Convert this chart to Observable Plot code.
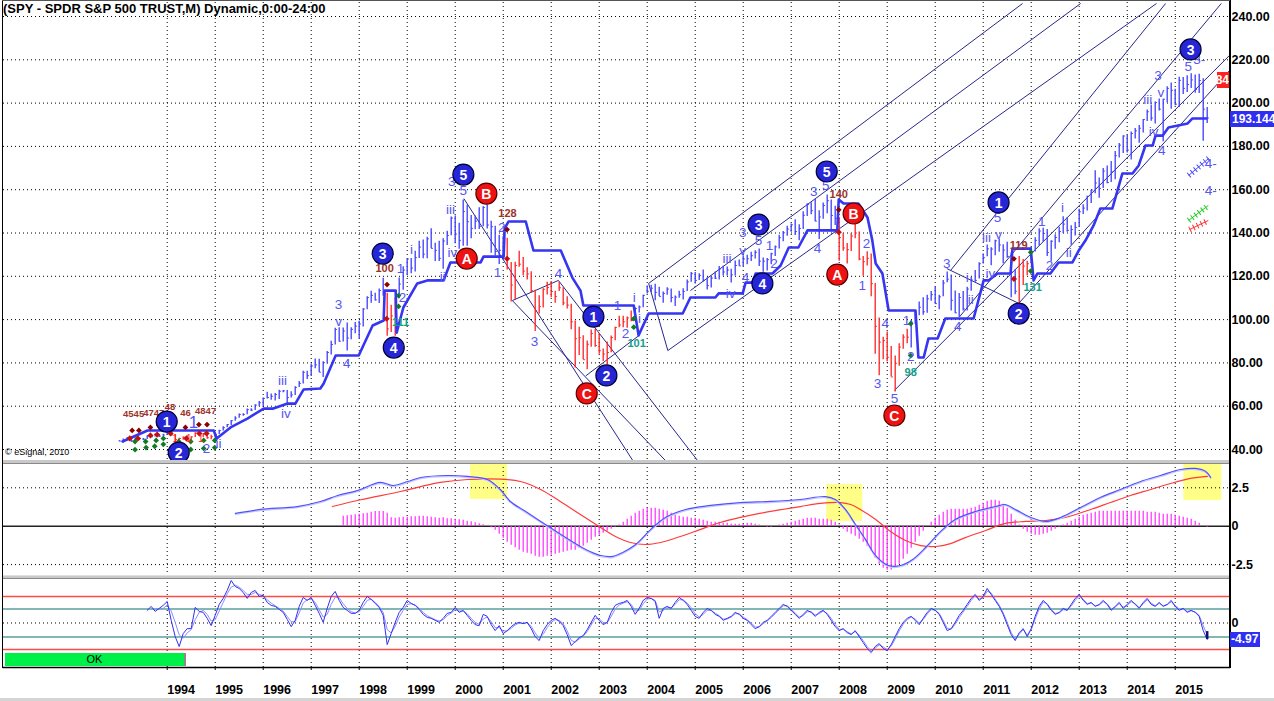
<!DOCTYPE html>
<html>
<head>
<meta charset="utf-8">
<script src="https://cdn.jsdelivr.net/npm/d3@7"></script>
<script src="https://cdn.jsdelivr.net/npm/@observablehq/plot@0.6"></script>
<style>
html,body{margin:0;padding:0;background:#fff;}
#chart{position:relative;width:1274px;height:701px;overflow:hidden;background:#fff;font-family:"Liberation Sans",Arial,sans-serif;}
#chart svg{position:absolute;left:0;overflow:visible}
.deco{position:absolute}
.box{position:absolute;color:#fff;font-weight:bold;font-size:12px;line-height:16px;white-space:nowrap;overflow:hidden}
</style>
</head>
<body>
<div id="chart"></div>
<script>
// ---------------- DATA ----------------
const title = "(SPY - SPDR S&P 500 TRUST,M) Dynamic,0:00-24:00";
const yearTicks = [1994,1995,1996,1997,1998,1999,2000,2001,2002,2003,2004,2005,2006,2007,2008,2009,2010,2011,2012,2013,2014,2015];
const priceTicks = [40,60,80,100,120,140,160,180,200,220,240];
const macdTicks = [-2.5,0,2.5];
const oscTicks = [0];
const oscBands = [-8,8];
const oscInner = [-4.2,4.2];

// monthly bars, first bar = Jan 1993
const barStart = 1993;
const spyHigh = [
44.0,44.9,45.6,45.2,45.3,45.3,45.1,46.4,46.4,47.1,46.9,47.1,
48.3,48.3,46.8,45.2,45.8,46.0,45.9,47.7,47.6,47.4,47.3,46.6,
47.2,48.9,50.5,51.5,53.4,55.1,56.4,56.5,58.7,58.8,60.7,62.2,
63.8,66.4,65.6,65.9,67.4,67.3,67.3,66.7,69.0,71.4,76.2,76.1,
79.4,81.8,81.7,80.5,85.3,90.0,96.0,96.2,96.1,98.4,96.2,98.7,
99.2,105.0,110.6,113.1,112.2,114.1,119.1,112.2,106.6,110.0,119.2,124.4,
128.0,128.2,131.6,136.2,136.8,138.0,142.0,135.3,136.2,137.3,140.8,147.4,
147.8,144.5,155.3,152.8,148.1,147.8,151.7,152.1,153.0,145.4,143.1,139.0,
138.4,137.6,126.4,126.5,131.6,128.7,123.9,122.1,113.5,111.0,114.3,117.3,
117.6,113.1,117.3,114.7,110.6,107.1,99.4,96.5,92.5,90.1,95.2,95.4,
93.5,86.4,89.6,92.4,96.5,101.5,101.5,101.2,104.0,105.4,106.3,111.2,
115.5,115.9,116.3,115.0,112.8,114.7,114.1,110.9,113.1,114.3,118.3,121.7,
121.8,121.2,122.9,119.2,119.9,122.0,124.5,124.6,124.3,123.3,127.1,127.5,
129.5,129.7,131.1,131.8,132.6,128.4,128.2,130.6,134.0,139.0,140.7,143.1,
144.1,146.1,143.8,149.8,153.5,154.0,155.6,150.3,153.8,157.6,155.2,152.4,
147.1,139.6,135.2,139.7,144.0,140.5,129.2,131.3,130.3,116.7,100.7,91.9,
94.3,87.6,83.2,88.8,93.0,95.6,99.6,103.9,108.1,110.1,111.3,113.0,
115.1,111.2,118.1,122.0,120.6,113.2,112.0,113.0,114.9,119.6,122.7,126.3,
130.3,134.5,133.2,136.6,137.1,134.6,135.7,130.8,123.0,129.2,127.8,127.0,
133.3,137.8,142.0,142.2,141.6,136.4,139.2,142.7,147.5,147.1,143.4,144.8,
151.0,153.0,157.0,159.7,168.7,165.4,169.8,170.9,173.0,177.6,181.3,184.9,
185.1,186.7,188.3,189.7,192.4,196.8,199.1,200.5,201.9,201.8,207.5,209.3,
206.4,211.9,211.8,212.6,213.5,213.0,213.3,211.3,198.0];
const spyLow = [
43.6,43.0,44.0,43.3,43.5,44.1,44.1,44.6,45.5,45.8,45.5,46.1,
46.5,46.4,43.6,43.5,44.3,44.2,44.4,45.6,46.1,45.6,44.7,44.5,
45.7,46.9,48.5,50.0,51.1,53.0,54.4,55.4,56.0,57.6,58.0,59.8,
59.7,63.3,62.7,62.4,63.1,66.2,60.5,63.8,64.9,68.6,70.3,72.3,
73.7,77.3,75.6,73.3,79.5,83.6,88.3,89.7,89.7,85.5,90.7,93.5,
91.2,96.6,104.6,107.6,108.6,107.4,110.8,92.3,94.0,92.3,109.6,113.6,
120.5,121.2,122.0,128.2,128.1,128.1,132.7,126.8,126.8,123.3,134.2,138.7,
135.0,132.5,133.9,133.9,137.4,141.5,141.6,142.9,141.9,130.6,129.4,125.5,
127.4,122.9,108.1,109.1,124.2,120.3,118.3,112.4,94.5,102.6,105.4,111.4,
110.1,107.5,113.0,106.4,104.9,95.3,77.6,83.4,81.5,76.8,87.2,87.2,
84.0,80.7,78.9,84.7,90.2,96.2,96.2,96.0,99.0,99.4,103.1,105.5,
111.8,112.4,108.7,110.7,107.6,111.3,107.8,106.0,109.9,109.0,113.0,117.3,
116.4,118.1,117.4,113.7,114.6,118.5,118.3,120.1,120.1,116.9,120.1,124.6,
124.5,125.3,126.8,128.0,124.5,121.9,122.4,125.3,129.1,132.6,136.0,138.5,
140.3,138.9,136.4,141.6,147.6,148.4,145.2,137.0,146.3,148.9,140.6,143.5,
127.0,131.6,125.7,131.5,137.3,127.2,120.0,124.8,110.6,84.0,74.1,81.5,
80.5,73.5,66.6,78.4,86.3,88.8,86.9,97.9,101.8,102.0,102.9,108.5,
107.1,104.5,110.5,117.0,104.0,102.8,101.1,104.0,104.0,113.1,117.3,118.7,
125.7,129.0,124.9,129.5,131.1,125.8,128.3,110.1,111.5,107.5,115.8,120.2,
125.9,131.2,134.0,135.7,129.2,126.7,132.5,135.5,139.6,140.3,134.3,138.6,
142.6,148.5,150.2,153.6,158.1,156.0,160.5,162.7,163.3,164.6,174.6,176.7,
177.0,173.7,183.4,181.4,186.2,191.5,191.6,190.4,196.4,182.1,200.1,197.2,
198.8,198.0,204.0,204.9,206.8,204.6,204.4,182.4,190.6];
const spyClose = [
43.9,44.3,45.2,44.0,45.0,45.1,44.8,46.4,45.9,46.8,46.2,46.7,
48.2,46.7,44.6,45.1,45.7,44.4,45.8,47.6,46.3,47.2,45.4,45.9,
47.0,48.7,50.1,51.5,53.3,54.5,56.2,56.2,58.4,58.2,60.5,61.6,
63.6,64.0,64.6,65.4,66.9,67.1,64.0,65.2,68.7,70.5,75.7,74.1,
78.6,79.1,75.7,80.1,84.8,88.5,95.4,90.0,94.7,91.5,95.5,97.0,
98.0,104.9,110.2,111.2,109.1,113.4,112.1,95.7,101.7,109.9,116.4,122.9,
128.0,123.8,128.6,133.5,130.2,137.3,132.9,132.0,128.3,136.3,138.9,146.9,
139.5,136.6,149.9,145.2,142.1,145.5,143.1,151.8,143.7,142.9,131.5,132.0,
136.6,124.0,116.0,125.0,125.6,122.4,121.1,113.4,104.1,106.0,114.0,114.8,
113.0,110.7,114.7,107.7,106.7,99.0,91.2,91.6,81.5,88.6,93.6,88.0,
85.6,84.1,84.8,91.7,96.4,97.5,99.0,100.8,99.6,105.1,105.8,111.2,
113.1,114.5,112.6,110.7,112.1,114.1,110.2,110.4,111.5,113.0,117.4,121.2,
118.1,120.4,118.1,115.7,119.2,119.1,123.4,122.0,122.9,120.7,125.0,124.8,
128.0,128.1,129.5,131.1,127.0,127.0,127.7,130.4,133.6,137.8,140.1,141.8,
143.8,140.7,142.1,148.2,153.1,150.3,145.5,147.4,152.7,154.9,148.1,146.8,
137.9,133.1,132.3,138.6,140.0,128.0,126.7,128.3,116.6,96.9,89.6,90.3,
82.6,73.5,79.8,87.3,91.9,91.9,98.8,102.1,105.7,103.6,109.6,111.5,
107.4,110.5,116.9,118.7,108.9,103.1,110.2,104.9,114.1,118.3,118.1,125.8,
128.6,132.7,132.6,136.4,134.5,132.1,129.2,121.9,113.1,125.3,124.7,125.8,
131.2,136.6,140.9,139.8,131.0,136.2,137.9,140.7,144.1,141.2,141.6,142.6,
149.8,151.5,156.9,159.8,163.1,160.6,168.6,163.3,168.2,175.7,180.6,184.8,
178.3,186.0,187.2,188.4,192.4,196.0,193.1,200.3,197.2,201.8,206.8,205.9,
199.5,210.5,206.8,208.6,210.7,206.3,210.4,197.2,193.144];
// down-trend (red bar) phases, [first month, last month] as decimal years
const downPhases = [[1994.08,1994.92],[1998.58,1998.75],[2001.08,2003.67],[2008.0,2009.42],[2011.67,2011.92]];

// trailing stop line (decimal year, price)
const stopLine = [[1993.07,43.7],[1993.59,48.8],[1994.97,48.8],[1995.03,45.1],[1995.32,50.2],[1995.67,54.3],[1996.01,58.9],[1996.21,58.9],[1996.51,61.2],[1996.67,61.2],[1996.84,67.7],[1997.19,68.2],[1997.26,70.5],[1997.51,83.4],[1997.99,83.4],[1998.28,97.3],[1998.51,99.6],[1998.53,113.4],[1998.76,113.4],[1998.78,94.0],[1998.92,105.6],[1999.21,116.7],[1999.42,118.1],[1999.76,118.1],[1999.90,126.4],[2000.53,126.4],[2000.59,129.1],[2001.01,129.1],[2001.03,142.1],[2001.11,145.3],[2001.47,145.3],[2001.63,131.9],[2002.20,131.9],[2002.44,119.4],[2002.61,113.4],[2002.67,106.5],[2003.72,106.5],[2003.82,92.7],[2004.03,102.8],[2004.74,102.8],[2004.90,110.2],[2005.42,110.2],[2005.49,112.1],[2005.99,112.1],[2006.05,117.1],[2006.19,117.1],[2006.26,121.3],[2006.61,121.3],[2006.78,125.0],[2006.95,133.3],[2007.15,133.3],[2007.34,141.2],[2007.96,141.2],[2007.99,155.5],[2008.09,153.6],[2008.40,153.6],[2008.59,147.2],[2008.69,136.5],[2008.76,125.9],[2008.90,121.3],[2009.03,104.2],[2009.59,104.2],[2009.65,82.5],[2009.76,82.5],[2009.86,91.3],[2010.05,91.3],[2010.21,100.5],[2010.80,100.5],[2011.01,118.1],[2011.11,118.1],[2011.30,121.3],[2011.57,121.3],[2011.61,132.8],[2011.99,132.8],[2012.05,118.1],[2012.13,121.3],[2012.40,121.3],[2012.57,126.4],[2012.86,126.4],[2012.99,131.9],[2013.13,136.5],[2013.30,143.5],[2013.44,151.3],[2013.69,151.3],[2013.90,167.5],[2014.11,167.5],[2014.24,171.2],[2014.38,180.4],[2014.53,180.4],[2014.59,185.0],[2014.74,185.0],[2014.86,188.7],[2015.26,190.6],[2015.36,192.9],[2015.65,192.9]];

// channel / trend lines [year1, price1, year2, price2]
const trendLines = [
 [2000.18,155.9,2003.70,34.9],
 [2001.19,108.8,2002.15,118.1],
 [2001.19,108.8,2004.38,34.9],
 [2002.15,118.1,2005.05,34.9],
 [2002.72,74.0,2003.82,92.5],
 [2004.03,116.7,2011.82,246.0],
 [2004.03,116.7,2004.43,85.7],
 [2004.43,85.7,2014.61,246.0],
 [2004.90,113.4,2013.03,246.0],
 [2009.15,67.3,2016.13,222.0],
 [2010.24,123.6,2011.74,107.5],
 [2010.32,122.7,2014.80,246.0],
 [2010.50,101.1,2015.96,246.0],
 [2011.74,107.5,2016.13,215.0]];

// pivot markers
const pivotHighDots = [[1993.27,48.8],[1993.41,48.8],[1993.65,50.2],[1993.83,51.1],[1994.09,52.0],[1994.38,50.2],[1994.66,51.5],[1994.83,51.5],[1998.58,116.2],[2001.08,141.6],[2007.99,150.7],[2011.64,128.1]];
const pivotMidDots = [[1993.22,45.1],[1993.39,45.1],[1993.65,46.5],[1993.79,46.9],[1994.07,47.4],[1994.40,45.1],[1994.67,47.4],[1994.82,47.4],[1998.57,100.4],[2001.08,128.1],[2007.99,140.4],[2011.64,118.8]];
const pivotLowDots = [[1993.33,43.7],[1993.55,43.7],[1993.77,44.2],[1993.92,45.1],[1994.24,43.7],[1994.49,43.7],[1994.76,44.2],[1994.99,44.2],[1993.33,39.9],[1993.56,40.9],[1993.74,41.5],[1993.92,42.4],[1994.24,40.0],[1994.49,40.0],[1994.76,40.5],[1994.99,40.9],[1998.82,111.1],[1998.82,106.1],[2003.72,100.4],[2003.72,96.5],[2009.49,98.1],[2009.49,83.4],[2011.99,131.1],[2011.99,122.4]];

// wave counts
const blueCircles = [[1993.99,52.9,"1"],[1994.24,38.6,"2"],[1998.49,130.5,"3"],[1998.72,87.1,"4"],[2000.17,167.0,"5"],[2002.88,101.4,"1"],[2003.15,74.2,"2"],[2006.32,143.9,"3"],[2006.40,116.7,"4"],[2007.74,168.4,"5"],[2011.32,154.1,"1"],[2011.74,102.8,"2"],[2015.32,224.8,"3"]];
const redCircles = [[2000.65,158.2,"B"],[2000.24,128.2,"A"],[2002.74,65.9,"C"],[2008.30,149.0,"B"],[2007.96,120.8,"A"],[2009.15,55.7,"C"]];
const waveLabels = [[1994.82,40.6,"2"],[1995.07,42.8,"ii"],[1996.40,71.9,"iii"],[1996.47,56.6,"iv"],[1997.57,106.9,"3"],[1997.57,99.2,"v"],[1997.74,79.7,"4"],[1998.86,123.6,"1"],[1998.90,110.2,"2"],[1999.09,132.4,"i"],[1999.74,119.9,"ii"],[1999.90,150.9,"iii"],[1999.94,131.0,"iv"],[1999.93,163.6,"3"],[2000.17,159.6,"5"],[2000.97,142.5,"2"],[2000.88,121.8,"1"],[2002.15,121.3,"4"],[2001.65,89.9,"3"],[2003.38,106.5,"1"],[2003.73,110.2,"i"],[2003.84,100.5,"i"],[2003.55,93.6,"2"],[2005.66,128.2,"iii"],[2005.74,112.1,"iv"],[2005.99,140.2,"3"],[2005.99,132.0,"v"],[2006.32,136.5,"5"],[2006.55,134.2,"1"],[2006.05,119.4,"4"],[2006.64,125.9,"2"],[2007.55,132.8,"4"],[2007.47,159.2,"3"],[2007.72,161.9,"5"],[2008.57,135.2,"2"],[2008.48,115.8,"1"],[2008.80,70.5,"3"],[2008.96,98.2,"4"],[2009.15,63.6,"5"],[2009.40,99.6,"1"],[2009.49,83.0,"2"],[2010.24,125.9,"3"],[2010.47,96.8,"4"],[2010.67,119.4,"i"],[2010.74,109.3,"ii"],[2011.07,137.9,"iii"],[2011.15,121.3,"iv"],[2011.32,139.4,"v"],[2011.30,147.0,"5"],[2012.22,145.3,"1"],[2012.38,125.0,"2"],[2012.65,151.8,"i"],[2012.78,131.0,"ii"],[2014.43,201.8,"iii"],[2014.70,205.0,"v"],[2014.64,212.6,"3"],[2014.55,186.9,"iv"],[2014.72,178.1,"4"],[2015.27,216.6,"5"],[2015.50,220.0,"3-"],[2015.74,172.1,"4-"],[2015.74,159.6,"4-"]];
const bigWaveLabels = [[1994.55,52.4,"1"]];
const smallRedLabels = [[1994.17,45.0,"1"],[1994.45,45.0,"1"],[1994.70,45.0,"1"]];
const highValueLabels = [[1998.53,123.6,"100"],[2001.09,149.0,"128"],[2007.99,157.8,"140"],[2011.74,134.2,"119"]];
const earlyValueLabels = [[1993.30,56.2,"4545"],[1993.72,57.0,"4747"],[1994.06,59.6,"48"],[1994.38,57.0,"46"],[1994.80,57.8,"4847"]];
const lowValueLabels = [[1998.86,98.7,"111"],[2003.78,89.0,"101"],[2009.49,75.6,"98"],[2012.03,114.8,"131"]];
// projection hatches [year1, price1, year2, price2]
const projBlue = [[2015.28,166.6,2015.70,174.5]];
const projGreen = [[2015.28,145.8,2015.69,152.7]];
const projRed = [[2015.30,141.6,2015.69,145.8]];

// MACD panel
const macdLine = [[1995.42,0.83],[1995.94,1.09],[1996.71,1.28],[1997.19,1.61],[1997.55,2.00],[1997.96,2.32],[1998.44,2.85],[1998.71,2.65],[1999.01,2.91],[1999.28,3.17],[1999.84,3.30],[2000.26,3.24],[2000.67,3.04],[2000.94,2.39],[2001.15,1.61],[2001.47,0.96],[2001.88,0.11],[2002.30,-0.74],[2002.72,-1.52],[2003.03,-1.91],[2003.28,-1.97],[2003.49,-1.71],[2003.76,-1.19],[2004.07,-0.22],[2004.38,0.57],[2004.80,1.09],[2005.32,1.35],[2005.94,1.54],[2006.57,1.61],[2007.19,1.74],[2007.71,1.93],[2007.92,1.74],[2008.13,1.09],[2008.34,0.11],[2008.55,-0.87],[2008.76,-1.91],[2009.03,-2.56],[2009.28,-2.56],[2009.53,-2.17],[2009.80,-1.39],[2010.11,-0.35],[2010.42,0.44],[2010.84,0.96],[2011.26,1.28],[2011.46,1.41],[2011.67,1.09],[2011.99,0.57],[2012.30,0.31],[2012.61,0.57],[2013.03,1.22],[2013.44,1.87],[2013.86,2.39],[2014.28,2.91],[2014.69,3.30],[2015.11,3.69],[2015.42,3.76],[2015.63,3.57],[2015.74,3.18]];
const signalLine = [[1997.44,1.28],[1998.03,1.72],[1998.86,2.26],[1999.28,2.58],[1999.69,2.85],[2000.26,3.04],[2000.94,3.07],[2001.36,2.91],[2001.78,2.39],[2002.19,1.61],[2002.61,0.76],[2003.03,-0.08],[2003.34,-0.67],[2003.65,-1.06],[2003.97,-1.19],[2004.28,-1.06],[2004.69,-0.67],[2005.10,-0.22],[2005.52,0.24],[2005.94,0.57],[2006.57,0.96],[2007.19,1.28],[2007.61,1.48],[2008.03,1.54],[2008.24,1.41],[2008.44,1.09],[2008.76,0.44],[2009.07,-0.35],[2009.38,-0.93],[2009.70,-1.26],[2010.01,-1.32],[2010.32,-1.13],[2010.63,-0.74],[2011.05,-0.28],[2011.46,0.18],[2011.88,0.31],[2012.30,0.37],[2012.71,0.57],[2013.24,1.09],[2013.65,1.54],[2014.07,2.00],[2014.49,2.39],[2014.90,2.78],[2015.32,3.11],[2015.67,3.24]];
const histStart = 1997 + 8/12;
const macdHist = [
0.65,0.68,0.72,0.75,
0.78,0.81,0.85,0.91,0.96,0.96,0.96,0.85,0.55,0.52,0.55,0.59,
0.59,0.62,0.62,0.65,0.65,0.62,0.59,0.55,0.52,0.55,0.49,0.49,
0.46,0.42,0.39,0.33,0.29,0.23,0.16,0.10,0.03,-0.10,-0.26,-0.52,
-0.78,-1.04,-1.24,-1.41,-1.56,-1.69,-1.76,-1.82,-1.95,-2.02,-2.02,-1.95,
-1.89,-1.82,-1.76,-1.69,-1.63,-1.56,-1.56,-1.43,-1.30,-1.11,-0.91,-0.72,
-0.59,-0.46,-0.33,-0.20,-0.07,0.07,0.26,0.46,0.65,0.85,0.98,1.11,
1.17,1.17,1.17,1.11,1.04,0.98,0.85,0.72,0.65,0.59,0.59,0.52,
0.52,0.46,0.39,0.33,0.26,0.26,0.26,0.20,0.20,0.13,0.13,0.13,
0.13,0.20,0.20,0.13,0.07,0,-0.07,-0.07,0,0.07,0.13,0.20,
0.26,0.33,0.39,0.46,0.52,0.52,0.52,0.46,0.46,0.46,0.39,0.26,
0.07,-0.20,-0.39,-0.52,-0.65,-0.85,-1.04,-1.30,-1.63,-2.08,-2.47,-2.73,
-2.86,-2.86,-2.73,-2.47,-2.15,-1.82,-1.43,-1.04,-0.65,-0.33,0,0.26,
0.52,0.72,0.91,1.04,1.11,1.11,1.11,1.11,1.11,1.17,1.24,1.37,
1.50,1.63,1.69,1.69,1.63,1.43,1.17,0.78,0.39,0.07,-0.20,-0.39,
-0.52,-0.59,-0.59,-0.52,-0.46,-0.33,-0.20,-0.07,0.07,0.20,0.33,0.46,
0.59,0.72,0.78,0.85,0.91,0.98,0.98,0.98,0.98,0.98,0.98,0.98,
0.98,0.98,0.98,0.98,0.98,0.91,0.91,0.91,0.85,0.78,0.78,0.78,
0.72,0.65,0.59,0.52,0.46,0.33,0.20,0.0,-0.07];
// highlighted zones [year1, year2, macd1, macd2]
const highlightZones = [[2000.32,2001.09,1.74,4.15],[2007.74,2008.49,0.31,2.71],[2015.18,2015.97,1.67,4.15]];

// oscillator panel (monthly)
const oscStart = 1993 + 7/12;
const oscFast = [
3.8,5.0,3.5,4.4,5.3,6.5,
0.8,-4.1,-7.1,-3.2,-1.7,-1.7,4.7,3.5,3.2,1.4,-0.8,2.3,
5.6,7.4,9.8,12.8,11.0,10.4,9.2,7.4,9.2,9.8,8.0,8.3,
6.2,5.3,5.0,4.1,3.2,1.1,-1.1,0.8,5.0,7.7,6.8,7.7,
5.3,2.9,0.2,4.4,8.0,9.5,6.8,4.7,3.8,2.9,2.9,3.8,
6.2,8.0,7.1,5.9,4.7,2.3,-6.5,-3.2,0.2,3.2,4.7,6.8,
5.9,5.3,4.1,2.6,1.7,1.4,0.8,0.2,1.4,2.9,3.2,4.7,
3.2,3.8,2.3,0.8,-0.5,-0.8,2.6,2.0,-0.5,-2.3,-0.8,-3.2,
-2.3,-1.1,-0.2,0.2,-0.2,0.2,-1.7,-4.1,-5.3,-2.3,-0.5,0.8,
1.4,0.5,-0.8,-3.5,-6.8,-5.6,-4.4,-3.8,-2.0,0.2,2.3,0.8,
-0.5,0.2,3.2,5.3,5.9,6.2,6.8,5.0,2.6,4.4,6.8,7.7,
7.4,6.5,1.4,4.4,5.0,4.4,6.2,7.7,6.8,5.6,3.8,2.0,
1.4,3.2,4.4,3.8,2.6,2.0,0.8,1.4,2.0,3.2,2.6,1.4,
0.8,-0.5,-1.7,-1.1,0.2,0.8,2.0,3.2,4.4,5.6,5.0,3.8,
2.6,1.4,2.6,3.8,3.2,2.0,3.2,3.8,2.6,0.8,-1.1,-2.3,
-1.7,-2.9,-3.5,-2.3,-4.1,-5.9,-7.7,-8.9,-7.1,-6.2,-7.7,-8.3,
-6.5,-4.1,-1.7,0.2,1.4,2.0,0.8,-0.5,1.4,3.2,4.4,3.8,
2.6,0.2,-2.3,-1.7,0.2,2.3,3.8,5.6,7.4,8.6,6.8,8.0,
10.4,8.6,6.8,5.0,2.6,-0.5,-3.5,-5.3,-2.9,-1.7,-4.1,-1.7,
2.0,5.0,6.8,5.6,3.8,2.6,3.2,4.4,3.8,5.6,7.4,8.6,
6.8,5.6,6.2,5.0,5.6,6.8,5.6,3.8,5.0,6.2,4.4,5.6,
6.8,5.6,4.4,6.2,7.4,5.6,5.0,6.2,5.0,5.6,6.8,5.0,
3.8,4.4,3.2,3.8,3.2,2.0,-2.3,-4.97];
const oscSlowStart = 1993 + 9/12;
const oscSlow = [
4.2,4.3,4.4,5.4,
3.6,0.2,-3.6,-4.6,-3.0,-2.0,1.0,3.2,3.8,2.6,0.6,1.0,
3.6,6.2,8.8,10.8,11.4,10.8,9.8,8.6,8.6,9.2,8.6,8.2,
7.0,6.0,5.2,4.4,3.6,2.0,0.4,0.4,3.0,6.0,7.0,7.2,
6.2,4.0,1.8,2.6,5.6,7.8,7.6,5.8,4.4,3.4,3.0,3.4,
5.0,6.8,7.2,6.2,5.0,3.2,-2.0,-3.0,-1.0,1.8,3.8,5.6,
5.8,5.4,4.4,3.2,2.2,1.6,1.0,0.6,1.0,2.2,3.0,4.0,
3.6,3.6,2.8,1.4,0.2,-0.4,1.2,1.8,0.4,-1.4,-1.4,-2.4,
-2.4,-1.6,-0.6,0.0,-0.1,0.1,-1.0,-3.0,-4.6,-3.4,-1.4,0.2,
1.0,0.8,-0.2,-2.4,-5.2,-5.8,-4.8,-4.0,-2.6,-0.6,1.4,1.2,
0.2,0.0,2.0,4.2,5.4,6.0,6.4,5.6,3.6,3.8,5.8,7.2,
7.4,6.8,3.4,3.8,4.6,4.6,5.6,7.0,7.0,6.0,4.6,2.8,
1.8,2.6,3.8,3.8,3.0,2.2,1.2,1.2,1.8,2.8,2.8,1.8,
1.0,0.0,-1.2,-1.2,-0.2,0.6,1.6,2.8,4.0,5.2,5.2,4.2,
3.0,1.8,2.2,3.4,3.4,2.4,2.8,3.6,2.9,1.4,-0.5,-1.9,
-1.9,-2.6,-3.3,-2.6,-3.6,-5.3,-7.1,-8.5,-7.6,-6.6,-7.2,-8.0,
-7.0,-4.8,-2.4,-0.4,1.0,1.8,1.2,0.0,1.0,2.7,4.0,3.9,
2.9,0.8,-1.6,-1.9,-0.4,1.6,3.3,5.0,6.8,8.2,7.2,7.6,
9.6,9.0,7.2,5.4,3.1,0.2,-2.9,-4.8,-3.4,-2.0,-3.6,-2.1,
1.2,4.2,6.3,5.8,4.2,2.9,3.0,4.0,3.9,5.1,6.8,8.2,
7.2,5.9,6.0,5.2,5.4,6.4,5.8,4.2,4.8,5.8,4.8,5.3,
6.4,5.8,4.7,5.7,7.0,6.0,5.2,5.9,5.2,5.5,6.4,5.3,
4.2,4.3,3.5,3.7,3.3,2.3,-0.8,-3.6];
const lastPrice = 193.144;
const lastOsc = -4.97;
const alertLabel = "84";
const statusLabel = "OK";
const copyright = "© eSignal, 2010";

// ---------------- STYLE ----------------
const FONT = "'Liberation Sans', Arial, sans-serif";
const W = 1274;
const BAR_BLUE = "#3d3dff", BAR_RED = "#ff1f1f";
const LABEL_BLUE = "#5656f2";
const xCfg = {domain: [1994, 2015], range: [166.7, 1174.7], axis: null};
const dotted = {stroke: "#000", strokeDasharray: "1,3", strokeWidth: 1};
const axisText = {fontSize: 12.5, fontWeight: "bold", color: "#000", label: null};

const chart = document.getElementById("chart");
function place(svg, top) { svg.style.top = top + "px"; chart.appendChild(svg); }

const isDown = t => downPhases.some(([a, b]) => t >= a - 0.002 && t <= b + 0.002);
const bars = spyHigh.map((h, i) => ({t: barStart + i / 12, high: h, low: spyLow[i], close: spyClose[i]}));
bars.forEach(d => d.down = isDown(d.t));
const barColor = d => d.down ? BAR_RED : BAR_BLUE;

const hatch = (data, color) => [
  Plot.link(data, {x1: d => d[0], y1: d => d[1], x2: d => d[2], y2: d => d[3], stroke: color, strokeWidth: 1}),
  Plot.link(data, {x1: d => d[0], y1: d => d[1], x2: d => d[2], y2: d => d[3], stroke: color, strokeWidth: 6, strokeDasharray: "1,3.2"})
];
const pt = {x: d => d[0], y: d => d[1]};

// ---------------- PRICE PANEL ----------------
const pricePlot = Plot.plot({
  width: W, height: 461,
  marginLeft: 3, marginRight: 45, marginTop: 2, marginBottom: 0,
  x: xCfg,
  y: {domain: [40, 240], range: [449, 16], axis: null},
  style: {background: "none", fontFamily: FONT, overflow: "visible"},
  marks: [
    Plot.ruleY(priceTicks, dotted),
    Plot.ruleX(yearTicks, dotted),
    Plot.link(trendLines, {x1: d => d[0], y1: d => d[1], x2: d => d[2], y2: d => d[3], stroke: "#28288c", strokeWidth: 1, clip: true}),
    Plot.ruleX(bars, {x: "t", y1: "low", y2: "high", stroke: barColor, strokeWidth: 1.3}),
    Plot.link(bars, {x1: "t", x2: d => d.t + 0.035, y1: "close", y2: "close", stroke: barColor, strokeWidth: 1}),
    Plot.line(stopLine, {...pt, stroke: "#3535f2", strokeWidth: 2.6, strokeLinejoin: "round"}),
    ...hatch(projBlue, "#4848ff"),
    ...hatch(projGreen, "#22cc22"),
    ...hatch(projRed, "#ff3030"),
    Plot.dot(pivotHighDots, {...pt, r: 2.6, fill: "#8b0000", symbol: "diamond2"}),
    Plot.dot(pivotMidDots, {...pt, r: 2.8, fill: "#c01010", symbol: "diamond2"}),
    Plot.dot(pivotLowDots, {...pt, r: 2.6, fill: "#117a22", symbol: "diamond2"}),
    Plot.text(highValueLabels, {...pt, text: d => d[2], fill: "#9c3328", fontSize: 11, fontWeight: "bold"}),
    Plot.text(earlyValueLabels, {...pt, text: d => d[2], fill: "#9c3328", fontSize: 9.5, fontWeight: "bold", letterSpacing: "-0.5px"}),
    Plot.text(lowValueLabels, {...pt, text: d => d[2], fill: "#15a08a", fontSize: 11, fontWeight: "bold"}),
    Plot.text(smallRedLabels, {...pt, text: d => d[2], fill: "#ff2020", fontSize: 10}),
    Plot.text(waveLabels, {...pt, text: d => d[2], fill: LABEL_BLUE, fontSize: 13.5}),
    Plot.text(bigWaveLabels, {...pt, text: d => d[2], fill: LABEL_BLUE, fontSize: 17}),
    Plot.dot(blueCircles, {...pt, r: 10.5, fill: "#2626d6", stroke: "#00003a", strokeWidth: 1.2}),
    Plot.dot(redCircles, {...pt, r: 10.5, fill: "#ee1212", stroke: "#5a0000", strokeWidth: 1.2}),
    Plot.text(blueCircles.concat(redCircles), {...pt, text: d => d[2], fill: "#fff", fontSize: 14, fontWeight: "bold", dy: 1}),
    Plot.axisY(priceTicks, {anchor: "right", tickSize: 0, tickPadding: 2, tickFormat: d => d.toFixed(2), ...axisText})
  ]
});
place(pricePlot, 0);

// ---------------- MACD PANEL ----------------
const histData = macdHist.map((v, i) => ({t: histStart + i / 12, v}));
const macdPlot = Plot.plot({
  width: W, height: 115,
  marginLeft: 3, marginRight: 45, marginTop: 2, marginBottom: 0,
  x: xCfg,
  y: {domain: [-2.5, 2.5], range: [103.1, 26.3], axis: null},
  style: {background: "none", fontFamily: FONT, overflow: "visible"},
  marks: [
    Plot.rect(highlightZones, {x1: d => d[0], x2: d => d[1], y1: d => d[2], y2: d => d[3], fill: "#ffff7a", fillOpacity: 0.9}),
    Plot.ruleY([2.5, -2.5], dotted),
    Plot.ruleX(yearTicks, dotted),
    Plot.ruleY([0], {stroke: "#222", strokeWidth: 1.5}),
    Plot.ruleX(histData, {x: "t", y1: 0, y2: "v", stroke: "#ff2cff", strokeWidth: 1.2}),
    Plot.line(signalLine, {...pt, stroke: "#ff3b3b", strokeWidth: 1.2, curve: "catmull-rom"}),
    Plot.line(macdLine, {...pt, stroke: "#c8c8ff", strokeWidth: 1.2, dy: 1.2, curve: "catmull-rom"}),
    Plot.line(macdLine, {...pt, stroke: "#5050ff", strokeWidth: 1.2, curve: "catmull-rom"}),
    Plot.axisY(macdTicks, {anchor: "right", tickSize: 0, tickPadding: 2, tickFormat: d => String(d), ...axisText})
  ]
});
place(macdPlot, 461);

// ---------------- OSCILLATOR PANEL + TIME AXIS ----------------
const fastData = oscFast.map((v, i) => ({t: oscStart + i / 12, v}));
const slowData = oscSlow.map((v, i) => ({t: oscSlowStart + i / 12, v}));
const oscPlot = Plot.plot({
  width: W, height: 124,
  marginLeft: 3, marginRight: 45, marginTop: 1, marginBottom: 34,
  x: xCfg,
  y: {domain: [-8, 8], range: [72.06, 18.94], axis: null},
  style: {background: "none", fontFamily: FONT, overflow: "visible"},
  marks: [
    Plot.ruleX(yearTicks, dotted),
    Plot.ruleY(oscTicks, dotted),
    Plot.ruleY(oscBands, {stroke: "#ff4a4a", strokeWidth: 1.6}),
    Plot.ruleY(oscInner, {stroke: "#5c9e9e", strokeWidth: 1.6}),
    Plot.line(slowData, {x: "t", y: "v", stroke: "#8c8cff", strokeWidth: 1}),
    Plot.line(fastData, {x: "t", y: "v", stroke: "#3030f0", strokeWidth: 1}),
    Plot.ruleX([fastData[fastData.length - 1]], {x: "t", y1: -2.6, y2: "v", stroke: "#101070", strokeWidth: 2.5}),
    Plot.frame({anchor: "bottom", stroke: "#000", strokeWidth: 1.5}),
    Plot.axisX(yearTicks, {anchor: "bottom", tickSize: 3, tickPadding: 15, tickFormat: d => String(d), textAnchor: "start", ...axisText}),
    Plot.axisY(oscTicks, {anchor: "right", tickSize: 0, tickPadding: 2, tickFormat: d => String(d), ...axisText})
  ]
});
place(oscPlot, 577);

// ---------------- DECORATION (frame, separators, labels) ----------------
function div(css, text, cls) {
  const d = document.createElement("div");
  d.className = cls || "deco";
  d.style.cssText = css;
  if (text != null) d.textContent = text;
  chart.appendChild(d);
  return d;
}
div("left:3px;top:1px;font:bold 13px " + FONT + ";color:#000;white-space:nowrap", title);
div("left:5px;top:447px;font:9px " + FONT + ";color:#000;white-space:nowrap", copyright);
// borders
div("left:2px;top:0;width:1px;height:668px;background:#000");
div("left:1229px;top:0;width:1.5px;height:668px;background:#000");
div("left:2px;top:0;width:1228px;height:1px;background:#555");
// panel separators
div("left:3px;top:460px;width:1226px;height:3px;background:#c9c9c9;border-bottom:1px solid #8a8a8a");
div("left:3px;top:575px;width:1226px;height:2px;background:#c9c9c9;border-bottom:1px solid #8a8a8a;border-top:1px solid #e0e0e0");
// bottom window line
div("left:0;top:698px;width:1274px;height:3px;background:#d4d4d4");
// status bar
div("left:5px;top:653px;width:179px;height:13px;background:#00f04a;border-right:2px solid #8a8a8a;font:11px " + FONT + ";color:#000;text-align:center;line-height:13px", statusLabel);
// value boxes
div("left:1217px;top:72px;width:12px;height:16px;background:#ff2020;text-align:right;direction:rtl", alertLabel, "box");
div("left:1230px;top:111px;width:44px;height:16px;background:#2f2ff2;padding-left:2px", String(lastPrice), "box");
div("left:1230px;top:632px;width:29px;height:15px;background:#2f2ff2;padding-left:1px;line-height:15px", lastOsc.toFixed(2), "box");
</script>
</body>
</html>
